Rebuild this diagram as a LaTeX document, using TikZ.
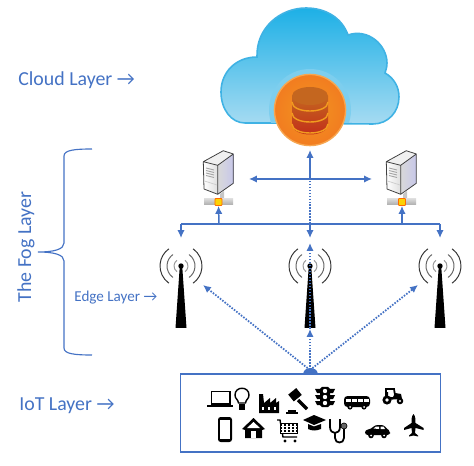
\documentclass[tikz,border=0pt]{standalone}
\usepackage{fontspec}
\setmainfont{Carlito}
\usetikzlibrary{arrows.meta}
\definecolor{fogblue}{HTML}{4472C4}
\definecolor{cloudtop}{HTML}{1DB0E6}
\definecolor{cloudbot}{HTML}{A6DBF2}
\definecolor{cloudrim}{HTML}{3FB2E4}
\definecolor{ballorange}{HTML}{F08A24}
\definecolor{ballrim}{HTML}{F7A650}
\definecolor{dbtop}{HTML}{C4661F}
\definecolor{dbbot}{HTML}{C22A1A}
\begin{document}
\begin{tikzpicture}[
  x=0.02cm, y=-0.02cm,
  lab/.style={text=fogblue, font=\fontsize{11.3}{13}\selectfont, anchor=west, inner sep=0},
  link/.style={draw=fogblue, line width=0.85pt, -{Latex[length=4.5pt,width=4.2pt]}},
  linkdot/.style={link, dash pattern=on 0.9pt off 0.8pt, line width=1pt},
  icon/.style={fill=black, draw=none},
  hole/.style={fill=white, draw=none},
  iconline/.style={draw=black, line width=0.8pt, fill=none},
  hubnode/.style={draw=orange!85!red, fill=yellow!70!orange, rounded corners=0.5pt, minimum size=4pt, inner sep=0, line width=0.5pt},
  server/.pic={
    \fill[gray!12] (-14.7,-11.3) -- (5.3,-22.3) -- (15.3,-19) -- (-0.3,-7.7) -- cycle;
    \shade[left color=white, right color=gray!25] (-14.7,-11.3) -- (-0.3,-7.7) -- (-0.3,21.3) -- (-14,16) -- cycle;
    \shade[left color=gray!30, right color=gray!55!blue!30] (-0.3,-7.7) -- (15.3,-19) -- (15.3,10.3) -- (-0.3,21.3) -- cycle;
    \draw[black!75, line width=0.45pt, line join=round] (-14.7,-11.3) -- (5.3,-22.3) -- (15.3,-19) -- (15.3,10.3) -- (-0.3,21.3) -- (-14,16) -- cycle (-14.7,-11.3) -- (-0.3,-7.7) -- (15.3,-19) (-0.3,-7.7) -- (-0.3,21.3);
    \foreach \s in {-4,-1.5,1,3.5} \draw[gray!70, line width=0.5pt] (-12,\s-1) -- (-4,\s+1);
    \draw[gray!40, line width=0.4pt] (-13.5,8) -- (-1,12);
    \fill[gray!45] (2,21) -- (6,18) -- (6,29) -- (2,29) -- cycle;
    \shade[top color=gray!30, bottom color=gray!65] (-14,26) rectangle (15,32);
  },
  tower/.pic={
    \fill[black] (-1.2,0) -- (1.2,0) -- (5.5,62) -- (-5.5,62) -- cycle;
    \fill[black] (0,0) circle (2.7);
    \foreach \r/\c in {21/black!80,14/black!60,7/black!40} {
      \draw[\c, line width=0.55pt] (-55:\r) arc[start angle=-55, end angle=55, radius=\r];
      \draw[\c, line width=0.55pt] (125:\r) arc[start angle=125, end angle=235, radius=\r];
    }
  }
]
\useasboundingbox (0,0) rectangle (474,466);
% cloud
\shade[top color=cloudtop, bottom color=cloudbot, draw=cloudrim, line width=0.9pt]
  (272,123) -- (245,123) .. controls (231,123) and (221,109) .. (221,92)
  .. controls (221,72) and (236,57) .. (257,57)
  .. controls (256,28) and (280,8) .. (306,8)
  .. controls (326,8) and (342,18) .. (348,35)
  .. controls (368,28) and (387,45) .. (387,63)
  .. controls (387,67) and (386,70) .. (385,73)
  .. controls (394,78) and (399,87) .. (399,97)
  .. controls (399,112) and (388,124) .. (373,124) -- cycle;
\begin{scope}
  \clip (260,60) rectangle (360,123);
  \fill[cloudbot!70!cloudtop] (310,110) circle (41);
\end{scope}
\node[circle, draw=ballrim, line width=0.8pt, inner color=ballorange!90!yellow, outer color=ballorange!90!red, minimum size=40.5pt, inner sep=0] (ball) at (310,110) {};
% database
\shade[top color=dbtop, bottom color=dbbot] (292,96) -- (292,124) .. controls (292,138) and (328,138) .. (328,124) -- (328,96) -- cycle;
\foreach \s in {102,113,124}
  \draw[ballorange!85!yellow, line width=0.8pt] (292,\s) .. controls (292,\s+12) and (328,\s+12) .. (328,\s);
\fill[dbtop] (310,96) ellipse (18 and 9);
% servers
\pic at (218,173) {server};
\pic at (401,173) {server};
\node[hubnode] (hubl) at (218.5,202) {};
\node[hubnode] (hubr) at (402,202) {};
% towers
\pic at (181,266) {tower};
\pic at (310,266) {tower};
\pic at (440,266) {tower};
% anchor points of the arrows
\coordinate (busl) at (181,224);
\coordinate (busr) at (440,224);
\coordinate (busm) at (310,224);
\coordinate (busa) at (219,224);
\coordinate (busb) at (402,224);
\coordinate (towl) at (181,238);
\coordinate (towm) at (310,238);
\coordinate (towr) at (440,238);
\coordinate (servl) at (249,179);
\coordinate (servr) at (372,179);
\coordinate (dbin) at (310,150);
\coordinate (dbmid) at (310,179);
\coordinate (headl) at (203,285);
\coordinate (headm) at (310,243);
\coordinate (headr) at (418,285);
\coordinate (basem) at (310,329);
% iot box and its outlet
\node[draw=fogblue, line width=0.8pt, fill=white, minimum width=148pt, minimum height=44.2pt, inner sep=0] (iotbox) at (310.5,413) {};
\fill[fogblue] (303,374) .. controls (304,366) and (317,366) .. (318,374) -- cycle;
\coordinate (iotout) at (310,370);
% connectors
\draw[fogblue, line width=0.85pt] (busl) -- (busr);
\draw[link] (busl) -- (towl);
\draw[link] (busm) -- (towm);
\draw[link] (busr) -- (towr);
\draw[link] (busa) -- (hubl.south);
\draw[link] (busb) -- (hubr.south);
\draw[link, {Latex[length=4.5pt,width=4.2pt]}-{Latex[length=4.5pt,width=4.2pt]}] (servl) -- (servr);
\draw[link] (dbmid) -- (dbin);
\draw[fogblue, dash pattern=on 0.9pt off 0.8pt, line width=1pt] (busm) -- (dbmid);
\draw[linkdot] (iotout) -- (headl);
\draw[linkdot] (iotout) -- (headr);
\draw[linkdot] (iotout) -- (basem);
\draw[linkdot] (basem) -- (headm);
% brace
\draw[fogblue, line width=0.65pt] (92,149) .. controls (75,149) and (64,150) .. (64,156) -- (64,243)
  .. controls (64,249) and (55,252) .. (38,252) .. controls (55,252) and (64,255) .. (64,261) -- (64,348)
  .. controls (64,354) and (75,355) .. (92,355);
% labels
\node[lab] (cloudlab) at (18,80) {Cloud Layer →};
\node[lab] (iotlab) at (19,406) {IoT Layer →};
\node[lab, font=\fontsize{8.6}{10}\selectfont] (edgelab) at (74,298) {Edge Layer →};
\node[lab, anchor=center, rotate=90] (foglab) at (26,247) {The Fog Layer};
% laptop
\draw[iconline] (211.5,391.5) rectangle (230,404);
\fill[icon] (207,405) rectangle (233,407.2);
% bulb
\draw[iconline, line width=0.8pt] (238.5,403) .. controls (238,399) and (235,399) .. (235,395) .. controls (235,386) and (249,386) .. (249,395) .. controls (249,399) and (246,399) .. (245.5,403) -- cycle;
\foreach \s in {405,407,409} \draw[iconline, line width=0.6pt] (239,\s) -- (245,\s);
% factory
\fill[icon] (259,413) -- (259,394) -- (263,394) -- (264,403) -- (270,398) -- (270,403) -- (276,398) -- (276,403) -- (279,401) -- (279,413) -- cycle;
\foreach \s in {263,269,275} \fill[hole] (\s-1,407) rectangle (\s+1,410);
% gavel
\draw[black, line width=2pt] (298,400) -- (307,409);
\draw[black, line width=5pt] (291,398) -- (299,391.5);
\fill[icon] (288,410) rectangle (296,411.5);
\fill[icon] (286,412) rectangle (298,413.5);
% traffic light
\fill[icon, rounded corners=1pt] (320,387) rectangle (330,407);
\foreach \s in {389,395,401} \fill[icon] (315,\s) -- (320,\s) -- (320,\s+4) -- (317,\s+4) -- cycle (335,\s) -- (330,\s) -- (330,\s+4) -- (333,\s+4) -- cycle;
\foreach \s in {391,397,403} \fill[hole] (325,\s) circle (2.2);
% bus
\fill[icon, rounded corners=2pt] (344,396) rectangle (370,407);
\foreach \s in {346,352,358,364} \fill[hole] (\s,398.5) rectangle (\s+4.5,402);
\fill[icon] (350,407) circle (2.6) (364,407) circle (2.6);
\fill[hole] (350,407) circle (1) (364,407) circle (1);
% tractor
\fill[icon] (386,392) rectangle (388,397) (384,397) -- (393,397) -- (395,393) -- (401,394) -- (402,399) -- (384,400) -- cycle;
\draw[black, line width=1pt] (386,396) -- (386,389) -- (394,389) -- (395,395);
\fill[icon] (387,400) circle (4.6) (400,401) circle (3.3);
\fill[hole] (387,400) circle (1.8) (400,401) circle (1.2);
% phone
\fill[icon, rounded corners=1.5pt] (218,417) rectangle (232,442);
\fill[hole] (219.8,419.5) rectangle (230.2,439);
% house
\fill[icon] (253.5,418) -- (265,429) -- (262,430) -- (262,438) -- (245,438) -- (245,430) -- (242,429) -- cycle;
\fill[hole] (251,431) rectangle (256,438);
\fill[hole] (253.5,422) -- (260,428) -- (247,428) -- cycle;
% cart
\draw[iconline] (277,420) -- (280,420) -- (283,437) -- (297,437);
\fill[icon] (280,423) rectangle (298,434);
\foreach \s in {283,287,291,295} \fill[hole] (\s-0.6,424) rectangle (\s+0.6,433);
\foreach \s in {426,429,432} \fill[hole] (281,\s-0.5) rectangle (297,\s+0.5);
\fill[icon] (285,441) circle (1.7) (295,441) circle (1.7);
% cap
\fill[icon] (314,415) -- (326,420) -- (314,425) -- (303,420) -- cycle;
\fill[icon] (308,424) -- (314,426.5) -- (321,424) -- (321,429) .. controls (316,431) and (312,431) .. (308,429) -- cycle;
% stethoscope
\draw[iconline, line width=1pt] (330,419) -- (330,427) .. controls (330,435) and (340,435) .. (340,427) -- (340,419);
\draw[iconline, line width=1pt] (335,433) -- (335,438) .. controls (335,444) and (344,444) .. (344,438) -- (344,429);
\fill[black] (344,426) circle (3.4);
\fill[black!60] (344,426) circle (2.6);
% car
\fill[icon, rounded corners=1.5pt] (365,435) -- (365,430) -- (371,429) -- (375,425) -- (384,425) -- (387,429) -- (390,431) -- (390,435) -- cycle;
\fill[hole] (373.5,428.5) -- (376,426.5) -- (379,426.5) -- (379,429) -- cycle (380.5,426.5) -- (383.5,426.5) -- (385,429) -- (380.5,429) -- cycle;
\fill[icon] (371,435.5) circle (2.8) (384,435.5) circle (2.8);
\fill[hole] (371,435.5) circle (1) (384,435.5) circle (1);
% plane
\fill[icon] (413.5,414) .. controls (415.5,416) and (415.5,420) .. (415.5,423) -- (423.5,428) -- (423.5,430) -- (415.5,428) -- (415,433) -- (418,435.5) -- (418,436.5) -- (413.5,435.5) -- (409,436.5) -- (409,435.5) -- (412,433) -- (411.5,428) -- (404,430) -- (404,428) -- (411.5,423) .. controls (411.5,420) and (411.5,416) .. (413.5,414) -- cycle;
\end{tikzpicture}
\end{document}
